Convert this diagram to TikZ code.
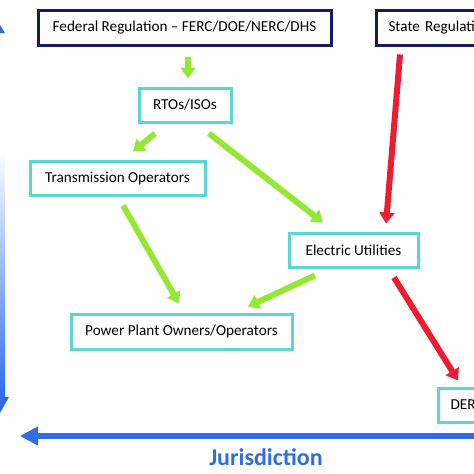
\documentclass[tikz,border=0pt]{standalone}
\usepackage{fontspec}
\setmainfont{Carlito}
\usetikzlibrary{arrows.meta,calc}

\definecolor{navy}{RGB}{22,26,98}
\definecolor{aqua}{RGB}{92,214,212}
\definecolor{lime}{RGB}{148,232,52}
\definecolor{redarr}{RGB}{238,28,48}
\definecolor{jblue}{RGB}{48,108,228}

\begin{document}
\begin{tikzpicture}[x=1pt,y=-1pt,
  fedbox/.style={draw=navy,line width=3pt,inner sep=0pt,font=\fontsize{15.2}{17}\selectfont},
  orgbox/.style={draw=aqua,line width=3pt,inner sep=0pt,font=\fontsize{15.2}{17}\selectfont},
  greenarr/.style={draw=lime,line width=6pt,-{Triangle[length=11pt,width=15pt]}},
  redarr/.style={draw=redarr,line width=6pt,-{Triangle[length=11pt,width=15pt]}}]
\useasboundingbox (0,0) rectangle (474,474);
\clip (0,0) rectangle (474,474);

% regulators
\node (fed) at (184.5,27.5) [fedbox,minimum width=293pt,minimum height=35pt] {Federal Regulation -- FERC/DOE/NERC/DHS};
\node (state) at (375,27.5) [fedbox,anchor=west,text width=140pt,inner xsep=12pt,align=left,minimum height=35pt] {State Regulati};

% organisations
\node (rto) at (185,105) [orgbox,minimum width=92pt,minimum height=34pt] {RTOs/ISOs};
\node (trans) at (117.5,178) [orgbox,minimum width=175pt,minimum height=34pt] {Transmission Operators};
\node (elec) at (353.5,250) [orgbox,minimum width=129pt,minimum height=34pt] {Electric Utilities};
\node (plant) at (181.5,331.5) [orgbox,minimum width=221pt,minimum height=35pt] {Power Plant Owners/Operators};
\node (der) at (437,405) [orgbox,anchor=west,text width=60pt,inner xsep=12pt,align=left,minimum height=34pt] {DER};

% green arrows
\draw[greenarr] ([shift={(3.5,10)}]fed.south) -- ([shift={(3,-8)}]rto.north);
\draw[greenarr] ([shift={(-30,10)}]rto.south) -- ([shift={(15.5,-8)}]trans.north);
\draw[greenarr] ([shift={(24,10)}]rto.south) -- ([shift={(-30.5,-9)}]elec.north);
\draw[greenarr] ([shift={(5.5,9)}]trans.south) -- ([shift={(-2.5,-9)}]plant.north);
\draw[greenarr] ([shift={(-38.5,7)}]elec.south) -- ([shift={(66.5,-6)}]plant.north);

% red arrows
\draw[redarr] ([shift={(25,8)}]state.south west) -- ([shift={(32.5,-8)}]elec.north);
\draw[redarr] ([shift={(40.5,9)}]elec.south) -- ([shift={(21,-6)}]der.north west);

% jurisdiction axis
\coordinate (jr) at (480,436);
\coordinate (jl) at (20,436);
\draw[jblue,line width=6pt,-{Triangle[length=18pt,width=18pt]}] (jr) -- (jl);
\node (jur) at (266,457) [text=jblue,font=\fontsize{24}{28}\selectfont\bfseries] {Jurisdiction};

% vertical axis (mostly cut off)
\shade[top color=white,bottom color=jblue] (-5,150) rectangle (5,398);
\fill[jblue] (-9,397) -- (9,397) -- (0,413) -- cycle;
\fill[jblue] (-5,33) -- (5,33) -- (0,25) -- cycle;
\end{tikzpicture}
\end{document}
